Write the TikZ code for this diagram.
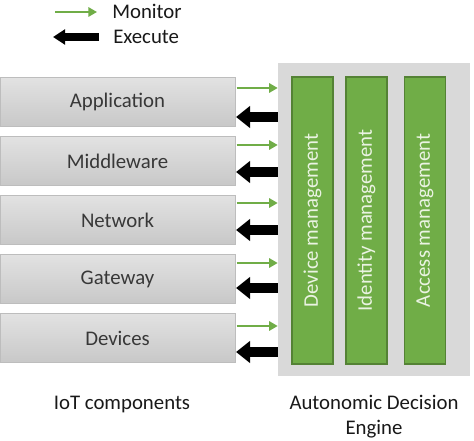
\documentclass[tikz,border=0pt]{standalone}
\usepackage{fontspec}
\setmainfont{Carlito}
\usetikzlibrary{arrows.meta}
\definecolor{mgreen}{HTML}{70AD47}
\definecolor{dgreen}{HTML}{548235}
\definecolor{engray}{HTML}{D9D9D9}
\definecolor{boxtop}{HTML}{E2E2E2}
\definecolor{boxbot}{HTML}{C8C8C8}
\definecolor{boxline}{HTML}{BDBDBD}
\definecolor{txtgray}{HTML}{383838}
\definecolor{bartxt}{HTML}{EAF3E2}
\tikzset{
  layerbox/.style={rectangle, draw=boxline, line width=0.6pt, top color=boxtop, bottom color=boxbot,
    minimum width=235*0.75pt, minimum height=49*0.75pt, inner sep=0pt,
    font=\fontsize{15.6pt}{18pt}\selectfont, text=txtgray},
  engbox/.style={rectangle, fill=engray, draw=none, minimum width=192*0.75pt, minimum height=313*0.75pt, inner sep=0pt},
  barbox/.style={rectangle, fill=mgreen, draw=dgreen, line width=0.8pt, minimum width=41*0.75pt, minimum height=287*0.75pt, inner sep=0pt},
  bartext/.style={rotate=90, text=bartxt, font=\fontsize{15.6pt}{18pt}\selectfont, inner sep=0pt},
  label/.style={font=\fontsize{15.6pt}{18.75pt}\selectfont, text=black!90, inner sep=0pt, align=center},
  mon/.style={draw=mgreen, line width=1.6pt, -{Triangle[length=6.5pt,width=7pt]}},
  exe/.style={draw=black, line width=7.5pt, -{Triangle[length=10.5pt,width=16pt]}},
  legexe/.style={draw=black, line width=5.5pt, -{Triangle[length=9pt,width=11pt]}},
}
\begin{document}
\begin{tikzpicture}[x=0.75pt,y=-0.75pt]
\useasboundingbox (0,0) rectangle (474,441);
\fill[white] (0,0) rectangle (474,441);

% legend
\coordinate (lm1) at (55,12);
\coordinate (lm2) at (97,12);
\coordinate (le1) at (99,37);
\coordinate (le2) at (53,37);
\draw[mon] (lm1) -- (lm2);
\draw[legexe] (le1) -- (le2);
\node[label, anchor=west] (tmon) at (112,11) {Monitor};
\node[label, anchor=west] (texe) at (113,37) {Execute};

% IoT layers
\node[layerbox] (app) at (117.5,102) {Application};
\node[layerbox] (mid) at (117.5,161) {Middleware};
\node[layerbox] (net) at (117.5,220) {Network};
\node[layerbox] (gw)  at (117.5,279) {Gateway};
\node[layerbox] (dev) at (117.5,338) {Devices};
\draw[blue!30!gray, line width=1pt] (app.north west) -- (app.south west);

% engine
\node[engbox] (eng) at (374,219.5) {};
\node[barbox] (b1) at (312.5,220.5) {};
\node[barbox] (b2) at (366.5,220.5) {};
\node[barbox] (b3) at (425,220.5) {};
\node[bartext] (t1) at (b1.center) {Device management};
\node[bartext] (t2) at (b2.center) {Identity management};
\node[bartext] (t3) at (b3.center) {Access management};

% arrows
\draw[mon] ([xshift=1pt,yshift=14*0.75pt]app.east) -- ([yshift=14*0.75pt]app.east -| eng.west);
\draw[exe] ([yshift=-15*0.75pt]app.east -| eng.west) -- ([xshift=0.5pt,yshift=-15*0.75pt]app.east);
\draw[mon] ([xshift=1pt,yshift=16*0.75pt]mid.east) -- ([yshift=16*0.75pt]mid.east -| eng.west);
\draw[exe] ([yshift=-11*0.75pt]mid.east -| eng.west) -- ([xshift=0.5pt,yshift=-11*0.75pt]mid.east);
\draw[mon] ([xshift=1pt,yshift=17*0.75pt]net.east) -- ([yshift=17*0.75pt]net.east -| eng.west);
\draw[exe] ([yshift=-10*0.75pt]net.east -| eng.west) -- ([xshift=0.5pt,yshift=-10*0.75pt]net.east);
\draw[mon] ([xshift=1pt,yshift=16*0.75pt]gw.east) -- ([yshift=16*0.75pt]gw.east -| eng.west);
\draw[exe] ([yshift=-9*0.75pt]gw.east -| eng.west) -- ([xshift=0.5pt,yshift=-9*0.75pt]gw.east);
\draw[mon] ([xshift=1pt,yshift=12*0.75pt]dev.east) -- ([yshift=12*0.75pt]dev.east -| eng.west);
\draw[exe] ([yshift=-14*0.75pt]dev.east -| eng.west) -- ([xshift=0.5pt,yshift=-14*0.75pt]dev.east);

% captions
\node[label] (cap1) at (122,405) {IoT components};
\node[label] (cap2) at (374,417) {Autonomic Decision\\Engine};
\end{tikzpicture}
\end{document}
